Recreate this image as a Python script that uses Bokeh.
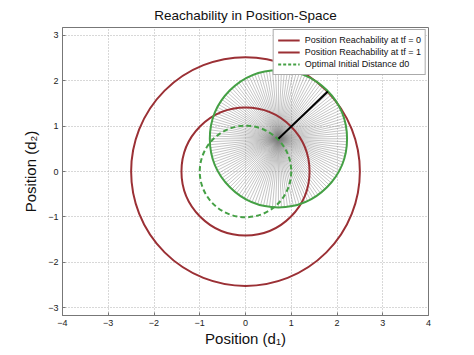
import numpy as np
from bokeh.plotting import figure
from bokeh.models import Range1d, FixedTicker, Legend, LegendItem
from bokeh.embed import file_html
from bokeh.resources import INLINE

# ---- data ----
title_text = "Reachability in Position-Space"
x_label = "Position (d\u2081)"
y_label = "Position (d\u2082)"
x_ticks = [-4, -3, -2, -1, 0, 1, 2, 3, 4]
y_ticks = [-3, -2, -1, 0, 1, 2, 3]
legend_labels = ["Position Reachability at tf = 0",
                 "Position Reachability at tf = 1",
                 "Optimal Initial Distance d0"]

reach_center_x = [0.0, 0.0]
reach_center_y = [0.0, 0.0]
reach_radius = [1.4, 2.5]          # tf = 0, tf = 1
d0_center = (0.0, 0.0)
d0_radius = 1.0
opt_center = (0.72, 0.72)
opt_radius = 1.5
spoke_angles_deg = np.arange(0.0, 360.0, 2.5)
best_angle_deg = 44.0

RED = "#9b3035"
GREEN = "#45a045"

p = figure(width=474, height=355, output_backend="svg", toolbar_location=None,
           x_range=Range1d(-4, 4), y_range=Range1d(-3.17, 3.17),
           min_border_left=62, min_border_right=46, min_border_top=27,
           min_border_bottom=40)
p.background_fill_color = "white"
p.border_fill_color = "white"
p.outline_line_color = "#777777"

p.title.text = title_text
p.title.align = "center"
p.title.text_font = "Liberation Sans"
p.title.text_font_size = "13.5px"
p.title.text_font_style = "normal"
p.title.text_color = "#111111"
p.title.standoff = 10

for ax, ticks, lab in ((p.xaxis[0], x_ticks, x_label), (p.yaxis[0], y_ticks, y_label)):
    ax.ticker = FixedTicker(ticks=ticks)
    ax.axis_label = lab
    ax.axis_label_text_font = "Liberation Sans"
    ax.axis_label_text_font_size = "15px"
    ax.axis_label_text_font_style = "normal"
    ax.axis_label_text_color = "#111111"
    ax.major_label_text_font = "Liberation Sans"
    ax.major_label_text_font_size = "9px"
    ax.major_label_text_color = "#222222"
    ax.major_tick_in = 3
    ax.major_tick_out = 0
    ax.minor_tick_in = 0
    ax.minor_tick_out = 0
    ax.axis_line_color = "#777777"
    ax.major_tick_line_color = "#777777"
p.xaxis[0].major_label_standoff = 4
p.yaxis[0].major_label_standoff = 4
p.xaxis[0].axis_label_standoff = 1
p.yaxis[0].axis_label_standoff = 6

p.xgrid.ticker = FixedTicker(ticks=x_ticks)
p.ygrid.ticker = FixedTicker(ticks=y_ticks)
p.grid.grid_line_color = "#b0b0b0"
p.grid.grid_line_dash = "1 2"
p.grid.grid_line_width = 1

# spokes
ang = np.deg2rad(spoke_angles_deg)
p.segment(x0=[opt_center[0]] * len(ang), y0=[opt_center[1]] * len(ang),
          x1=opt_center[0] + opt_radius * np.cos(ang),
          y1=opt_center[1] + opt_radius * np.sin(ang),
          line_color="#808080", line_width=0.7, line_alpha=0.65)

# reachability circles
p.circle(x=reach_center_x, y=reach_center_y, radius=reach_radius,
         fill_color=None, line_color=RED, line_width=2)
# d0 dashed circle
p.circle(x=[d0_center[0]], y=[d0_center[1]], radius=d0_radius,
         fill_color=None, line_color=GREEN, line_width=2, line_dash="5 3")
# optimal circle
p.circle(x=[opt_center[0]], y=[opt_center[1]], radius=opt_radius,
         fill_color=None, line_color=GREEN, line_width=2)
# best direction
ba = np.deg2rad(best_angle_deg)
p.segment(x0=[opt_center[0]], y0=[opt_center[1]],
          x1=[opt_center[0] + opt_radius * np.cos(ba)],
          y1=[opt_center[1] + opt_radius * np.sin(ba)],
          line_color="black", line_width=2)

# legend proxies (not visible in the plot area)
l0 = p.line(x=[np.nan, np.nan], y=[np.nan, np.nan], line_color=RED, line_width=2)
l1 = p.line(x=[np.nan, np.nan], y=[np.nan, np.nan], line_color=RED, line_width=2)
l2 = p.line(x=[np.nan, np.nan], y=[np.nan, np.nan], line_color=GREEN, line_width=2,
            line_dash="3 2")
legend = Legend(items=[LegendItem(label=legend_labels[0], renderers=[l0]),
                       LegendItem(label=legend_labels[1], renderers=[l1]),
                       LegendItem(label=legend_labels[2], renderers=[l2])],
                location="top_right")
legend.margin = 2
legend.padding = 4
legend.spacing = 0
legend.label_height = 12
legend.glyph_height = 12
legend.glyph_width = 22
legend.label_standoff = 5
legend.label_text_font = "Liberation Sans"
legend.label_text_font_size = "9px"
legend.label_text_color = "#111111"
legend.border_line_color = "#555555"
legend.background_fill_alpha = 1.0
p.add_layout(legend, "center")

open("out.html", "w").write(file_html(p, INLINE))
